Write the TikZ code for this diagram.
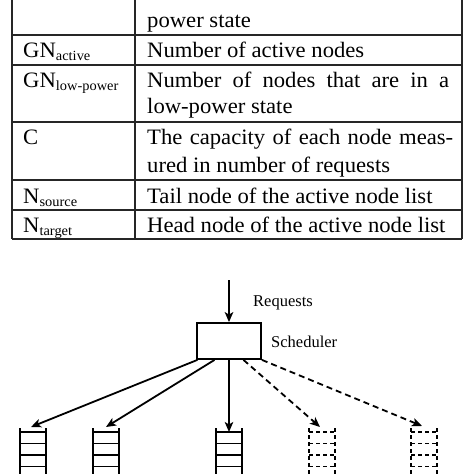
\documentclass[tikz,border=0pt]{standalone}
\usepackage{fontspec}
\setmainfont{Liberation Serif}[FakeStretch=1.03]
\newfontfamily\timesfont{Liberation Serif}
\usetikzlibrary{arrows.meta,calc}
\newcommand\subtx[1]{\raisebox{-3pt}{\fontsize{14}{15}\selectfont #1}}
\tikzset{
  tab/.style={line width=1.6pt, draw=black!85},
  cell/.style={anchor=base west, inner sep=0pt, font=\fontsize{22}{25}\selectfont},
  lab/.style={anchor=base west, inner sep=0pt, font=\timesfont\fontsize{16.5}{19}\selectfont},
  arr/.style={line width=1.8pt, -{Stealth[length=10pt,width=8.5pt,inset=2.5pt]}},
  darr/.style={arr, dash pattern=on 6pt off 4pt},
  rail/.style={line width=1.7pt},
  drail/.style={line width=1.6pt, dash pattern=on 4pt off 3pt},
  schedbox/.style={draw, line width=1.8pt, minimum width=64pt, minimum height=36pt, inner sep=0pt},
}
\newcommand\queuedraw[3]{%
  \draw[#2] (#1-13,428) -- (#1-13,480);
  \draw[#2] (#1+13,428) -- (#1+13,480);
  \foreach \yy in {432,443.5,455,466.5}{\draw[#2] (#1-13,\yy) -- (#1+13,\yy);}
  \coordinate (#3) at (#1,428);
}
\begin{document}
\begin{tikzpicture}[x=1pt,y=-1pt]
\useasboundingbox (0,0) rectangle (474,474);
\clip (0,0) rectangle (474,474);
% table
\draw[tab] (12,0) -- (12,239);
\draw[tab] (135,0) -- (135,239);
\draw[tab] (462,0) -- (462,239);
\foreach \yy in {35,65,122,180,210,239}{\draw[tab] (12,\yy) -- (462,\yy);}
\node[cell] (r0b) at (147,27) {power state};
\node[cell] (r1a) at (23,57) {GN\subtx{active}};
\node[cell] (r1b) at (147,57) {Number of active nodes};
\node[cell] (r2a) at (23,87) {GN\subtx{low-power}};
\node[cell] (r2b) at (147,87) {\makebox[302pt][s]{Number of nodes that are in a}};
\node[cell] (r2c) at (147,113) {low-power state};
\node[cell] (r3a) at (23,144) {C};
\node[cell] (r3b) at (147,144) {\makebox[306pt][s]{The capacity of each node meas-}};
\node[cell] (r3c) at (147,172) {ured in number of requests};
\node[cell] (r4a) at (23,203) {N\subtx{source}};
\node[cell] (r4b) at (147,203) {Tail node of the active node list};
\node[cell] (r5a) at (23,232) {N\subtx{target}};
\node[cell] (r5b) at (147,232) {Head node of the active node list};
% diagram
\node[schedbox] (sched) at (229,341) {};
\coordinate (in) at (229,280);
\draw[arr] (in) -- (sched.north);
\node[lab] (req) at (253,306) {Requests};
\node[lab] (sch) at (271,347) {Scheduler};
\queuedraw{33}{rail}{q1}
\queuedraw{106}{rail}{q2}
\queuedraw{229}{rail}{q3}
\queuedraw{322}{drail}{q4}
\queuedraw{424}{drail}{q5}
\coordinate (t1) at ($(q1)+(-2,-1)$);
\coordinate (t2) at ($(q2)+(0,-1)$);
\coordinate (t3) at ($(q3)+(0,4)$);
\coordinate (t4) at ($(q4)+(-2,-1)$);
\coordinate (t5) at ($(q5)+(-2,-2)$);
\draw[arr] ($(sched.south west)!0.02!(sched.south east)$) -- (t1);
\draw[arr] ($(sched.south west)!0.28!(sched.south east)$) -- (t2);
\draw[arr] (sched.south) -- (t3);
\draw[darr] ($(sched.south west)!0.72!(sched.south east)$) -- (t4);
\draw[darr] (sched.south east) -- (t5);
\end{tikzpicture}
\end{document}
